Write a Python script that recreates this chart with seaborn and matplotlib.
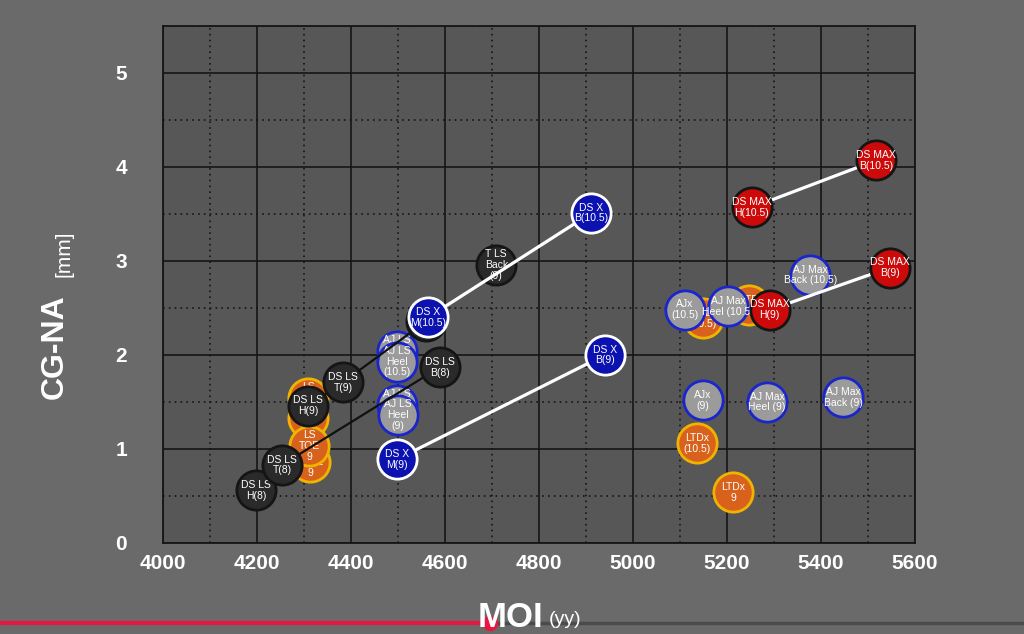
import matplotlib
matplotlib.use("Agg")
import matplotlib.pyplot as plt
import pandas as pd
import seaborn as sns
from matplotlib.lines import Line2D
from matplotlib.ticker import MultipleLocator

# values (MOI in g*cm^2, CG-NA in mm)
labels = [
    # orange: LTD / LS
    "LTD\n(10.5)", "LTD\n9",
    "LS\nHEEL\n10.5", "LS\nTOE\n10.5", "LS\nHEEL\n9", "LS\nTOE\n9",
    "LTDx\n(10.5)", "LTDx\n9",
    # grey: AJ
    "AJ LS\nToe\n(10.5)", "AJ LS\nHeel\n(10.5)", "AJ LS\nToe\n(9)", "AJ LS\nHeel\n(9)",
    "AJx\n(10.5)", "AJ Max\nHeel (10.5)", "AJ Max\nBack (10.5)",
    "AJx\n(9)", "AJ Max\nHeel (9)", "AJ Max\nBack (9)",
    # black: T LS / DS LS
    "T LS\nBack\n(9)",
    "DS LS\nB(9)", "DS LS\nH(9)", "DS LS\nT(9)",
    "DS LS\nH(8)", "DS LS\nT(8)", "DS LS\nB(8)",
    # blue: DS X
    "DS X\nM(10.5)", "DS X\nB(10.5)", "DS X\nM(9)", "DS X\nB(9)",
    # red: DS MAX
    "DS MAX\nH(10.5)", "DS MAX\nB(10.5)", "DS MAX\nH(9)", "DS MAX\nB(9)",
]
moi = [
    5149, 5247,
    4309, 4309, 4313, 4311,
    5136, 5213,
    4498, 4498, 4498, 4500,
    5111, 5202, 5377,
    5149, 5285, 5447,
    4709,
    4560, 4309, 4383,
    4198, 4253, 4589,
    4564, 4911, 4498, 4940,
    5253, 5517, 5291, 5547,
]
cgna = [
    2.39, 2.53,
    1.54, 1.33, 0.86, 1.03,
    1.06, 0.54,
    2.04, 1.93, 1.47, 1.36,
    2.48, 2.52, 2.85,
    1.52, 1.50, 1.55,
    2.96,
    2.36, 1.46, 1.71,
    0.56, 0.83, 1.87,
    2.40, 3.51, 0.89, 2.00,
    3.57, 4.07, 2.48, 2.93,
]
group = (["ltd"] * 8 + ["aj"] * 10 + ["tls"] + ["dsls"] * 6
         + ["dsx"] * 4 + ["dsmax"] * 4)

# connected points (same head, weight moved)
black_links = [
    ["DS LS\nH(9)", "DS LS\nT(9)", "DS LS\nB(9)"],
    ["DS LS\nH(8)", "DS LS\nT(8)", "DS LS\nB(8)"],
]
white_links = [
    ["DS X\nM(10.5)", "DS X\nB(10.5)"],
    ["DS X\nM(9)", "DS X\nB(9)"],
    ["DS MAX\nH(10.5)", "DS MAX\nB(10.5)"],
    ["DS MAX\nH(9)", "DS MAX\nB(9)"],
]

df = pd.DataFrame({"label": labels, "moi": moi, "cgna": cgna, "group": group})

styles = {
    "ltd":   ("#d8621c", "#f0b400"),
    "aj":    ("#9b9b9b", "#1a26cc"),
    "tls":   ("#2a2a2a", "#151515"),
    "dsls":  ("#2a2a2a", "#151515"),
    "dsx":   ("#0c12b0", "#ffffff"),
    "dsmax": ("#cc0a0a", "#151515"),
}
layer = {"ltd": 2, "aj": 3, "tls": 3.5, "dsls": 5, "dsx": 6, "dsmax": 6}

bg = "#6a6a6a"
panel = "#575757"

sns.set_theme(style="dark")
plt.rcParams["font.family"] = ["Liberation Sans", "DejaVu Sans"]

fig = plt.figure(figsize=(10.24, 6.34), dpi=100, facecolor=bg)
ax = fig.add_axes([163 / 1024, 1 - 543 / 634, (915 - 163) / 1024, (543 - 26) / 634])
ax.set_facecolor(panel)

for i, row in df.iterrows():
    fc, ec = styles[row["group"]]
    z = layer[row["group"]] + i * 0.001
    sns.scatterplot(x=[row["moi"]], y=[row["cgna"]], ax=ax, s=800, color=fc,
                    edgecolor=ec, linewidth=2.0, zorder=z, legend=False)
    ax.text(row["moi"], row["cgna"], row["label"], ha="center", va="center",
            color="white", fontsize=7.5, linespacing=1.1, zorder=z + 0.0005)

pos = df.set_index("label")
for chain in black_links:
    ax.plot(pos.loc[chain, "moi"], pos.loc[chain, "cgna"], color="#111111", lw=1.6, zorder=4)
for chain in white_links:
    ax.plot(pos.loc[chain, "moi"], pos.loc[chain, "cgna"], color="white", lw=2.3, zorder=4)

ax.set_xlim(4000, 5600)
ax.set_ylim(0, 5.5)
ax.xaxis.set_major_locator(MultipleLocator(200))
ax.xaxis.set_minor_locator(MultipleLocator(100))
ax.yaxis.set_major_locator(MultipleLocator(1))
ax.yaxis.set_minor_locator(MultipleLocator(0.5))
ax.grid(which="major", color="#151515", lw=1.2, ls="-")
ax.grid(which="minor", color="#151515", lw=1.2, ls=(0, (1, 2.5)))
ax.set_axisbelow(True)
for sp in ax.spines.values():
    sp.set_visible(True)
    sp.set_color("#151515")
    sp.set_linewidth(1.3)
ax.tick_params(which="both", length=0)
ax.tick_params(axis="x", pad=8, labelsize=15, labelcolor="white")
ax.tick_params(axis="y", pad=26, labelsize=15, labelcolor="white")
for t in ax.get_xticklabels() + ax.get_yticklabels():
    t.set_fontweight("bold")
ax.set_xlabel("")
ax.set_ylabel("")

# axis titles
fig.text(55 / 1024, 1 - 347 / 634, "CG-NA", rotation=90, ha="center", va="center",
         color="white", fontsize=23, fontweight="bold")
fig.text(64 / 1024, 1 - 254 / 634, "[mm]", rotation=90, ha="center", va="center",
         color="white", fontsize=15)
moi_txt = fig.text(478 / 1024, 1 - 601 / 634, "MOI", ha="left", va="top", color="white",
                   fontsize=25, fontweight="bold")
renderer = fig.canvas.get_renderer()
bb = moi_txt.get_window_extent(renderer)
fig.text(bb.x1 / 1024 + 5 / 1024, 1 - 611 / 634, "(yy)", ha="left", va="top",
         color="white", fontsize=14)

# player progress bar along the bottom of the screenshot
y_bar = 1 - 623 / 634
fig.add_artist(Line2D([490 / 1024, 1], [y_bar, y_bar], color="#4b4b4b", lw=2.5))
fig.add_artist(Line2D([0, 490 / 1024], [y_bar, y_bar], color="#e8173f", lw=3))
fig.add_artist(Line2D([490 / 1024], [y_bar], marker="o", ms=10, color="#e8173f", lw=0))

fig.savefig("out.png", dpi=100, facecolor=bg)
